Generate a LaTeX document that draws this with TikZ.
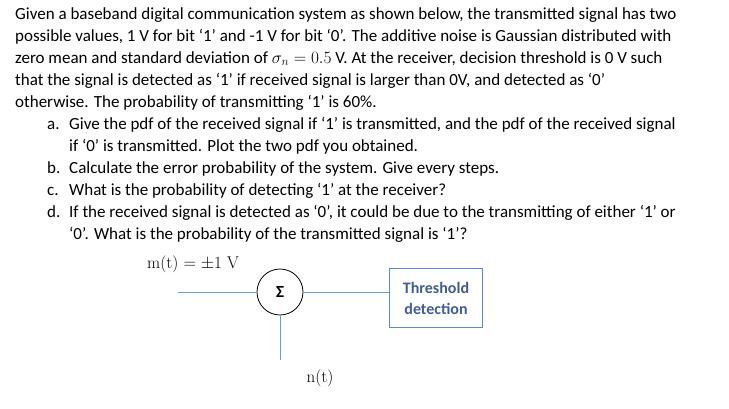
\documentclass[tikz,border=0pt]{standalone}
\usepackage{fontspec}
\setmainfont{Carlito}
\newfontfamily\serifm{Latin Modern Roman}
\begin{document}
\begin{tikzpicture}[x=1pt,y=-1pt,
  txt/.style={anchor=base west,inner sep=0pt,font=\fontsize{17}{22}\selectfont},
  wire/.style={draw=cyan!50!blue!60,line width=0.8pt},
  mathlbl/.style={inner sep=0pt,font=\serifm\fontsize{17}{22}\selectfont}]
\useasboundingbox (0,0) rectangle (729,408);
\node[txt] (l1) at (15,19) {Given a baseband digital communication system as shown below, the transmitted signal has two};
\node[txt] (l2) at (15,41) {possible values, 1 V for bit ‘1’ and -1 V for bit ‘0’. The additive noise is Gaussian distributed with};
\node[txt] (l3) at (15,63) {zero mean and standard deviation of $\sigma_n = 0.5$ V. At the receiver, decision threshold is 0 V such};
\node[txt] (l4) at (15,85) {that the signal is detected as ‘1’ if received signal is larger than 0V, and detected as ‘0’};
\node[txt] (l5) at (15,107) {otherwise. The probability of transmitting ‘1’ is 60\%.};
\node[txt] (a) at (47,129) {a.};
\node[txt] (at) at (69,129) {Give the pdf of the received signal if ‘1’ is transmitted, and the pdf of the received signal};
\node[txt] (at2) at (69,151) {if ‘0’ is transmitted. Plot the two pdf you obtained.};
\node[txt] (b) at (47,173) {b.};
\node[txt] (bt) at (69,173) {Calculate the error probability of the system. Give every steps.};
\node[txt] (c) at (47,195) {c.};
\node[txt] (ct) at (69,195) {What is the probability of detecting ‘1’ at the receiver?};
\node[txt] (d) at (47,217) {d.};
\node[txt] (dt) at (69,217) {If the received signal is detected as ‘0’, it could be due to the transmitting of either ‘1’ or};
\node[txt] (dt2) at (69,239) {‘0’. What is the probability of the transmitted signal is ‘1’?};
\node[mathlbl,anchor=base west] (m) at (147,268) {m(t) $=\pm$1 V};
\coordinate (in) at (178,292);
\node[draw,circle,line width=0.8pt,minimum size=46pt,inner sep=0pt,font=\bfseries\fontsize{17}{18}\selectfont] (sum) at (280,292) {Σ};
\node[draw=cyan!50!blue!70,line width=0.8pt,minimum width=93pt,minimum height=59pt,align=center,
  text=cyan!40!blue!70!black,font=\bfseries\fontsize{16}{21}\selectfont] (th) at (436,298) {Threshold\\detection};
\coordinate (nb) at (280,360);
\draw[wire] (in) -- (sum.west);
\draw[wire] (sum.east) -- (th.west |- sum.east);
\draw[wire] (sum.south) -- (nb);
\node[mathlbl] (n) at (320,378) {n(t)};
\end{tikzpicture}
\end{document}
